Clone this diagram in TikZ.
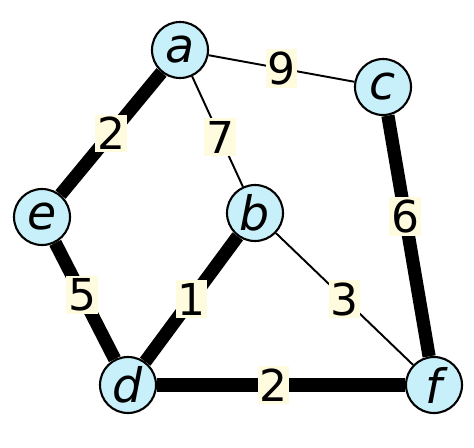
\documentclass[tikz,border=0pt]{standalone}
\usepackage{fontspec}
\setmainfont{DejaVu Sans}
\definecolor{vfill}{RGB}{200,240,250}
\definecolor{lfill}{RGB}{255,251,222}
\tikzset{
  vert/.style={circle,draw,line width=1.2pt,fill=vfill,minimum size=1.12cm,inner sep=0pt,font=\fontsize{27}{27}\selectfont\itshape},
  wlabel/.style={fill=lfill,inner xsep=1pt,inner ysep=1.5pt,font=\fontsize{25}{25}\selectfont},
  heavy/.style={line width=7.5pt},
  light/.style={line width=1.1pt}
}
\begin{document}
\begin{tikzpicture}
            \useasboundingbox (0,0) rectangle (9.48,8.94);
            \node[vert] (a) at (3.6,7.94) {a};
            \node[vert] (c) at (7.66,7.2) {c};
            \node[vert] (e) at (0.84,4.6) {e};
            \node[vert] (b) at (5.1,4.68) {b};
            \node[vert] (d) at (2.56,1.24) {d};
            \node[vert] (f) at (8.68,1.24) {f};
            \draw[light] (a) -- node[wlabel] {9} (c);
            \draw[light] (a) -- node[wlabel,pos=0.55] {7} (b);
            \draw[light] (b) -- node[wlabel] {3} (f);
            \draw[heavy] (a) -- node[wlabel] {2} (e);
            \draw[heavy] (c) -- node[wlabel,pos=0.42] {6} (f);
            \draw[heavy] (e) -- node[wlabel,pos=0.45] {5} (d);
            \draw[heavy] (d) -- node[wlabel] {1} (b);
            \draw[heavy] (d) -- node[wlabel,pos=0.47] {2} (f);
        \end{tikzpicture}
\end{document}
